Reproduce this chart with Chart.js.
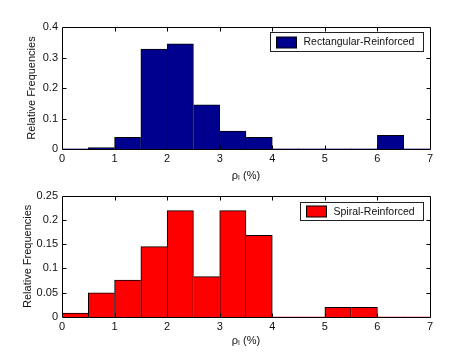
<!DOCTYPE html>
<html><head><meta charset="utf-8">
<script src="https://cdn.jsdelivr.net/npm/chart.js@4.4.1/dist/chart.umd.min.js"></script>
<style>
html,body{margin:0;padding:0;background:#fff;}
#wrap{position:relative;width:474px;height:355px;background:#fff;}
#c1{position:absolute;left:0;top:0;}
#c2{position:absolute;left:0;top:185px;}
</style></head><body>
<div id="wrap">
<canvas id="c1" width="474" height="185"></canvas>
<canvas id="c2" width="474" height="170"></canvas>
</div>
<script>
// ---- data ----
const binLeftEdges = [0, 0.5, 1, 1.5, 2, 2.5, 3, 3.5, 4, 4.5, 5, 5.5, 6, 6.5];
const binWidth = 0.5;
const rectangularFreq = [0, 0.005, 0.038, 0.328, 0.345, 0.145, 0.059, 0.038, 0, 0, 0, 0, 0.045, 0];
const spiralFreq = [0.008, 0.05, 0.076, 0.145, 0.219, 0.083, 0.219, 0.168, 0, 0, 0.02, 0.02, 0, 0];
const xTicks = [0, 1, 2, 3, 4, 5, 6, 7];
const yTicksTop = [0, 0.1, 0.2, 0.3, 0.4];
const yTicksBottom = [0, 0.05, 0.1, 0.15, 0.2, 0.25];
const xTitle = 'ρₗ (%)';
const yTitle = 'Relative Frequencies';
const seriesLabels = ['Rectangular-Reinforced', 'Spiral-Reinforced'];

const FONT = '"Liberation Sans", Arial, Helvetica, sans-serif';
const TXT = '#111';

const frame = {
  id: 'frame',
  afterDraw(chart, args, opts) {
    const {ctx, chartArea: a, scales: {x, y}} = chart;
    ctx.save();
    ctx.strokeStyle = '#000';
    ctx.lineWidth = 1;
    const L = Math.round(a.left) + 0.5, R = Math.round(a.right) + 0.5;
    const T = Math.round(a.top) + 0.5, B = Math.round(a.bottom) + 0.5;
    ctx.beginPath();
    ctx.rect(L, T, R - L, B - T);
    x.ticks.forEach(t => {
      if (t.value <= x.min || t.value >= x.max) return;
      const px = Math.round(x.getPixelForValue(t.value)) + 0.5;
      ctx.moveTo(px, B); ctx.lineTo(px, B - 4);
      ctx.moveTo(px, T); ctx.lineTo(px, T + 4);
    });
    y.ticks.forEach(t => {
      if (t.value <= y.min || t.value >= y.max) return;
      const py = Math.round(y.getPixelForValue(t.value)) + 0.5;
      ctx.moveTo(L, py); ctx.lineTo(L + 4, py);
      ctx.moveTo(R, py); ctx.lineTo(R - 4, py);
    });
    ctx.stroke();
    // legend
    const ds = chart.data.datasets[0];
    ctx.font = '10.5px ' + FONT;
    const tw = ctx.measureText(ds.label).width;
    const bw = Math.round(33 + tw + 9), bh = opts.h;
    const bx = Math.round(a.right - 7 - bw) + 0.5, by = Math.round(a.top + opts.dy) + 0.5;
    ctx.fillStyle = '#fff';
    ctx.fillRect(bx, by, bw, bh);
    ctx.strokeStyle = '#222';
    ctx.strokeRect(bx, by, bw, bh);
    const sy = Math.round(by + (bh - 11) / 2);
    ctx.fillStyle = ds.backgroundColor;
    ctx.fillRect(bx + 6, sy, 20, 11);
    ctx.strokeStyle = '#000';
    ctx.strokeRect(bx + 6, sy, 20, 11);
    ctx.fillStyle = TXT;
    ctx.textBaseline = 'middle';
    ctx.textAlign = 'left';
    ctx.fillText(ds.label, bx + 33, by + bh / 2 + 0.5);
    ctx.restore();
  }
};

function edgeWidths(values) {
  return ctx => {
    const i = ctx.dataIndex, v = values[i];
    if (!v) return 0;
    const prev = i > 0 ? values[i - 1] : -1;
    const next = i < values.length - 1 ? values[i + 1] : -1;
    return {top: 1, bottom: 0, left: prev < v ? 1 : 0, right: next <= v ? 1 : 0};
  };
}

function makeChart(id, label, color, values, yTicks, cfg) {
  return new Chart(document.getElementById(id), {
    type: 'bar',
    data: {
      datasets: [{
        label: label,
        data: binLeftEdges.map((e, i) => ({x: e + binWidth / 2, y: values[i]})),
        backgroundColor: color,
        borderColor: '#000',
        borderWidth: edgeWidths(values),
        borderSkipped: 'start',
        barPercentage: 1,
        categoryPercentage: 1
      }]
    },
    options: {
      responsive: false,
      animation: false,
      devicePixelRatio: 1,
      layout: {padding: {top: cfg.top, left: 0, right: 44, bottom: 0}},
      plugins: {legend: {display: false}, tooltip: {enabled: false}, frame: {h: cfg.lh, dy: cfg.ldy}},
      scales: {
        x: {
          type: 'linear', min: xTicks[0], max: xTicks[xTicks.length - 1], offset: false,
          grid: {display: false, drawTicks: false}, border: {display: false},
          afterBuildTicks: s => { s.ticks = xTicks.map(v => ({value: v})); },
          afterFit: s => { s.height = cfg.xh; },
          ticks: {padding: 3, color: TXT, font: {family: FONT, size: 11}, autoSkip: false, maxRotation: 0, callback: v => String(v)},
          title: {display: true, text: xTitle, color: TXT, font: {family: FONT, size: 11}, padding: {top: 0, bottom: cfg.tpb}}
        },
        y: {
          min: yTicks[0], max: yTicks[yTicks.length - 1],
          grid: {display: false, drawTicks: false}, border: {display: false},
          afterBuildTicks: s => { s.ticks = yTicks.map(v => ({value: v})); },
          afterFit: s => { s.width = 62; },
          ticks: {padding: 4, color: TXT, font: {family: FONT, size: 11}, callback: v => String(v)},
          title: {display: true, text: yTitle, color: TXT, font: {family: FONT, size: 11}, padding: {top: cfg.ytp, bottom: 0}}
        }
      }
    },
    plugins: [frame]
  });
}

makeChart('c1', seriesLabels[0], '#00008F', rectangularFreq, yTicksTop, {top: 27, xh: 36, tpb: 2.5, lh: 19, ldy: 5, ytp: 25.5});
makeChart('c2', seriesLabels[1], '#FF0000', spiralFreq, yTicksBottom, {top: 9, xh: 38, tpb: 7, lh: 18, ldy: 6, ytp: 21.5});
</script>
</body></html>
